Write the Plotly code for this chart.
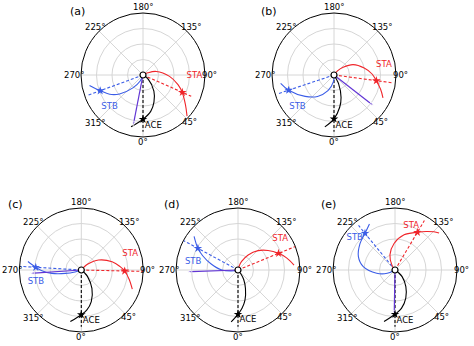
import math
import plotly.graph_objects as go

W, H = 474, 346
RMAX = 1.4

PANEL_TAGS = ["(a)", "(b)", "(c)", "(d)", "(e)"]

# Spacecraft positions: heliocentric distance (AU) and longitude (deg)
STA_R = [0.97, 0.965, 0.98, 0.99, 0.99]
STA_LON = [66.2, 82.4, 88.7, 112.3, 149.3]
STB_R = [1.03, 1.08, 1.03, 1.03, 1.07]
STB_LON = [290.2, 288.5, 266.6, 241.6, 219.3]
ACE_R = [1.0, 0.99, 1.01, 1.0, 1.0]
ACE_LON = [0, 0, 0, 0, 0]

# Outer radius of the dashed Sun-spacecraft lines
STA_LINE_END = [1.19, 1.33, 1.4, 1.4, 1.3]
STB_LINE_END = [1.32, 1.34, 1.4, 1.4, 1.3]
ACE_LINE_END = [1.28, 1.28, 1.28, 1.28, 1.28]

# CME propagation direction (arrow tip)
CME_R = [1.17, 1.14, 1.17, 1.15, 1.02]
CME_LON = [349, 52.2, 273.7, 272, 359]

# Parker spiral field lines connected to each spacecraft
STA_SPIRAL_R = [
    [0, 0.12, 0.31, 0.6, 0.82, 0.97, 1.17, 1.36],
    [0, 0.12, 0.27, 0.49, 0.7, 0.86, 0.96, 1.1, 1.22],
    [0, 0.08, 0.2, 0.45, 0.72, 0.88, 0.98, 1.1, 1.23],
    [0, 0.1, 0.21, 0.41, 0.63, 0.81, 0.99, 1.13, 1.27],
    [0, 0.13, 0.36, 0.6, 0.82, 0.99, 1.12, 1.23, 1.3],
]
STA_SPIRAL_LON = [
    [120, 114, 105, 87, 74.5, 66, 55, 47],
    [150, 140, 130, 118.5, 103, 91.5, 82.5, 73, 65],
    [142, 138, 132, 120, 105, 95, 88.7, 79, 69.4],
    [168, 163, 157, 146, 134, 123, 112.3, 104, 95],
    [222, 212, 198.5, 182, 165.5, 149.3, 141, 134.5, 130],
]
STB_SPIRAL_R = [
    [0, 0.15, 0.37, 0.68, 0.87, 1.03, 1.23],
    [0, 0.15, 0.38, 0.61, 0.81, 1.08, 1.22],
    [0, 0.15, 0.37, 0.67, 0.89, 1.03, 1.22],
    [0, 0.15, 0.38, 0.62, 0.86, 1.03, 1.25],
    [0, 0.19, 0.42, 0.72, 0.88, 0.99, 1.07, 1.19],
]
STB_SPIRAL_LON = [
    [345, 335, 322, 309, 300, 290, 281],
    [365, 355, 339, 322.5, 306.5, 288.5, 279],
    [290, 287, 282, 276.5, 271, 266.6, 261],
    [285, 279, 269.5, 257.5, 248, 241.6, 232.5],
    [310, 293, 280, 264, 250, 233, 219.3, 209],
]
ACE_SPIRAL_R = [
    [0, 0.15, 0.44, 0.66, 0.84, 1.0, 1.2],
    [0, 0.1, 0.22, 0.53, 0.74, 0.99, 1.19],
    [0, 0.1, 0.2, 0.48, 0.75, 0.91, 1.01, 1.19],
    [0, 0.12, 0.25, 0.45, 0.7, 0.87, 1.0, 1.18],
    [0, 0.1, 0.22, 0.45, 0.68, 0.88, 1.0, 1.19],
]
ACE_SPIRAL_LON = [
    [60, 52, 34, 22, 12, 0, -13],
    [32, 30, 28, 17.5, 10, 0, -10],
    [52, 48, 44, 30, 17.5, 8, 0, -12],
    [40, 36, 31, 22, 13, 6, 0, -7.5],
    [58, 53, 47, 33, 21, 9.5, 0, -12],
]

# Label anchor positions (AU, deg)
STA_LABEL_R = [1.16, 1.15, 1.16, 1.19, 1.07]
STA_LABEL_LON = [89.2, 101.6, 107.8, 126.8, 160]
STB_LABEL_R = [1.05, 1.10, 1.06, 1.03, 1.16]
STB_LABEL_LON = [314, 311.4, 284.8, 259.6, 231.6]
ACE_LABEL_R = [1.18, 1.17, 1.16, 1.15, 1.16]
ACE_LABEL_LON = [11.4, 11.2, 11.2, 11.3, 11.2]

# Angular ticks and where their labels sit just outside the rim
ANGLE_TICKS = [0, 45, 90, 135, 180, 225, 270, 315]
ANGLE_TICK_TEXT = ["0°", "45°", "90°", "135°", "180°", "225°", "270°", "315°"]
ANGLE_LABEL_R = [1.51, 1.50, 1.50, 1.52, 1.54, 1.54, 1.56, 1.54]

# Panel centres and radius in pixels
CENTERS = [(143, 75), (334, 75), (81.3, 270), (238, 270), (395, 270)]
RADIUS_PX = 62

RED = "#f0252a"
BLUE = "#3b5de7"
BLACK = "#000000"
PURPLE = "#6236d4"
GRID = "#d6d6d6"
FONT = "DejaVu Sans"
DASH = "3px,2px"
LW = 1.1

fig = go.Figure()

for i in range(5):
    sp = "polar" if i == 0 else f"polar{i + 1}"
    common = dict(subplot=sp, showlegend=False, hoverinfo="skip", cliponaxis=False)

    # dashed Sun-spacecraft lines
    for end, lon, col in [(STA_LINE_END[i], STA_LON[i], RED),
                          (STB_LINE_END[i], STB_LON[i], BLUE),
                          (ACE_LINE_END[i], ACE_LON[i], BLACK)]:
        fig.add_trace(go.Scatterpolar(r=[0, end], theta=[lon, lon], mode="lines",
                                      line=dict(color=col, width=LW, dash=DASH), **common))

    # spiral field lines
    for rr, tt, col in [(STA_SPIRAL_R[i], STA_SPIRAL_LON[i], RED),
                        (STB_SPIRAL_R[i], STB_SPIRAL_LON[i], BLUE),
                        (ACE_SPIRAL_R[i], ACE_SPIRAL_LON[i], BLACK)]:
        fig.add_trace(go.Scatterpolar(r=rr, theta=tt, mode="lines",
                                      line=dict(color=col, width=LW, shape="spline", smoothing=1),
                                      **common))

    # CME direction arrow
    fig.add_trace(go.Scatterpolar(
        r=[0, CME_R[i]], theta=[CME_LON[i], CME_LON[i]], mode="lines+markers",
        line=dict(color=PURPLE, width=1.2),
        marker=dict(symbol=["circle", "arrow"], size=[0, 5], color=PURPLE, angleref="previous"),
        **common))

    # spacecraft markers
    for rr, lon, col in [(STA_R[i], STA_LON[i], RED),
                         (STB_R[i], STB_LON[i], BLUE),
                         (ACE_R[i], ACE_LON[i], BLACK)]:
        fig.add_trace(go.Scatterpolar(r=[rr], theta=[lon], mode="markers",
                                      marker=dict(symbol="star", size=6.5, color=col), **common))

    # the Sun
    fig.add_trace(go.Scatterpolar(r=[0], theta=[0], mode="markers",
                                  marker=dict(symbol="circle", size=6, color="white",
                                              line=dict(color=BLACK, width=1.2)), **common))

    # spacecraft names
    for rr, lon, txt, col in [(STA_LABEL_R[i], STA_LABEL_LON[i], "STA", RED),
                              (STB_LABEL_R[i], STB_LABEL_LON[i], "STB", BLUE),
                              (ACE_LABEL_R[i], ACE_LABEL_LON[i], "ACE", BLACK)]:
        fig.add_trace(go.Scatterpolar(r=[rr], theta=[lon], mode="text", text=[txt],
                                      textposition="middle center",
                                      textfont=dict(color=col, size=8.5, family=FONT), **common))

layout = dict(width=W, height=H, margin=dict(l=0, r=0, t=0, b=0),
              paper_bgcolor="white", plot_bgcolor="white", showlegend=False)

for i, (cx, cy) in enumerate(CENTERS):
    key = "polar" if i == 0 else f"polar{i + 1}"
    layout[key] = dict(
        domain=dict(x=[(cx - RADIUS_PX) / W, (cx + RADIUS_PX) / W],
                    y=[(H - cy - RADIUS_PX) / H, (H - cy + RADIUS_PX) / H]),
        bgcolor="white",
        angularaxis=dict(rotation=-90, direction="counterclockwise",
                         tickmode="array", tickvals=ANGLE_TICKS, showticklabels=False,
                         showline=True, linecolor=BLACK, linewidth=1,
                         showgrid=True, gridcolor=GRID, gridwidth=1, ticks=""),
        radialaxis=dict(range=[0, RMAX], tickmode="array", tickvals=[0.35, 0.7, 1.05],
                        showticklabels=False, ticks="", showline=False,
                        showgrid=True, gridcolor=GRID, gridwidth=1),
    )

fig.update_layout(**layout)

# angular tick labels placed just outside each rim (0° at the bottom, counter-clockwise)
px_per_unit = RADIUS_PX / RMAX
for cx, cy in CENTERS:
    for ang, txt, rl in zip(ANGLE_TICKS, ANGLE_TICK_TEXT, ANGLE_LABEL_R):
        d = rl * px_per_unit
        x = cx + d * math.sin(math.radians(ang))
        y = cy + d * math.cos(math.radians(ang))
        fig.add_annotation(x=x / W, y=1 - y / H, xref="paper", yref="paper", text=txt,
                           showarrow=False, font=dict(size=8.5, color=BLACK, family=FONT),
                           xanchor="center", yanchor="middle")

TAG_POS = [(77, 12), (269, 12), (15, 205), (172, 205), (328, 205)]
for tag, (x, y) in zip(PANEL_TAGS, TAG_POS):
    fig.add_annotation(x=x / W, y=1 - y / H, xref="paper", yref="paper", text=tag,
                       showarrow=False, font=dict(size=11, color=BLACK, family=FONT),
                       xanchor="center", yanchor="middle")

fig.write_html("out.html")
